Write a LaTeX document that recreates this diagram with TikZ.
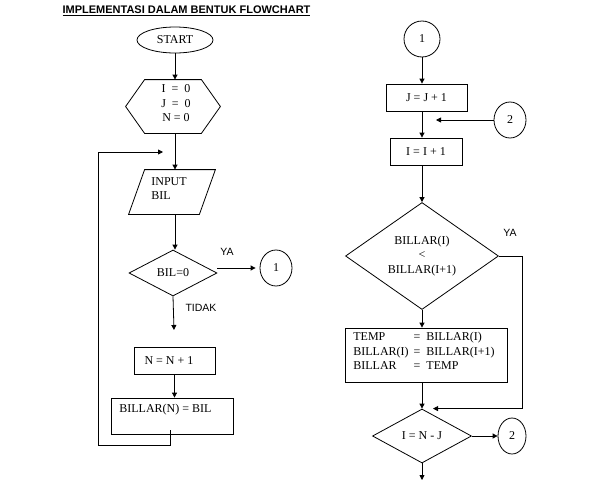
\documentclass[tikz,border=0pt]{standalone}
\usepackage{fontspec}
\setmainfont{Liberation Serif}
\setsansfont{Liberation Sans}
\usetikzlibrary{shapes.geometric,arrows.meta,calc}
\begin{document}
\begin{tikzpicture}[x=1pt,y=-1pt,
  line width=0.8pt,
  every node/.style={font=\fontsize{12}{14.5}\selectfont},
  arr/.style={-{Triangle[length=5pt,width=5pt]}},
  box/.style={draw, rectangle, inner sep=0pt},
  ghost/.style={rectangle, inner sep=0pt},
  dia/.style={draw, diamond, inner sep=0pt},
  conn/.style={draw, ellipse, inner sep=0pt},
  txt/.style={inner sep=0pt},
  lab/.style={font=\sffamily\fontsize{10.5}{12}\selectfont, inner sep=0pt}
]
\useasboundingbox (0,0) rectangle (592,482);
\node[font=\sffamily\bfseries\fontsize{11}{13}\selectfont, inner sep=0pt] (title) at (186.5,11) {\underline{IMPLEMENTASI DALAM BENTUK FLOWCHART}};

% left column
\node[conn, minimum width=76pt, minimum height=26pt] (start) at (175,40) {START};
\node[ghost, minimum width=94pt, minimum height=53pt] (init) at (173,106.5) {};
\draw ([xshift=19pt]init.north west) -- ([xshift=-19pt]init.north east) -- (init.east) -- ([xshift=-19pt]init.south east) -- ([xshift=19pt]init.south west) -- (init.west) -- cycle;
\node[txt, align=center] (inittext) at (176,103.5) {I\ \ =\ \ 0\\J\ \ =\ \ 0\\N = 0};

\node[ghost, minimum width=86pt, minimum height=44pt] (input) at (172,192) {};
\draw ([xshift=16pt]input.north west) -- (input.north east) -- ([xshift=-16pt]input.south east) -- (input.south west) -- cycle;
\node[txt, anchor=west, align=left] (inputtext) at (151,188.5) {INPUT\\BIL};

\node[dia, minimum width=88pt, minimum height=46pt, aspect=1.9] (dec1) at (173,273) {BIL=0};
\node[conn, minimum width=32pt, minimum height=36pt] (c1a) at (276,268) {1};
\node[lab] (ya1) at (227,252) {YA};
\node[lab] (tidak) at (201,308) {TIDAK};
\coordinate (tidakend) at (174,330);

\node[box, minimum width=81pt, minimum height=27pt] (n1) at (174.5,360.5) {};
\node[txt] (n1text) at (169,360.5) {N = N + 1};
\node[box, minimum width=122pt, minimum height=36pt] (bil) at (172,416) {};
\node[txt, anchor=west] (biltext) at (119,410) {BILLAR(N) = BIL};

\coordinate (loopstart) at (170,430);
\coordinate (loopend) at (163,152);

\draw[arr] (start.south) -- (start.south |- init.north);
\draw[arr] (init.south -| start.south) -- (input.north -| start.south);
\draw[arr] (input.south -| start.south) -- (dec1.north -| start.south);
\draw[arr, shorten >=4pt] (dec1.east |- c1a.west) -- (c1a.west);
\draw[arr] (dec1.south) -- (tidakend);
\draw[arr] (n1.south) -- (n1.south |- bil.north);
\draw[arr] (loopstart) -- ++(0,15) -| (98,152) -- (loopend);

% right column
\node[conn, minimum width=36pt, minimum height=36pt] (c1b) at (422,39) {1};
\node[box, minimum width=81pt, minimum height=27pt] (jbox) at (426.5,97.5) {J = J + 1};
\node[box, minimum width=72pt, minimum height=27pt] (ibox) at (426,151.5) {I = I + 1};
\node[conn, minimum width=32pt, minimum height=36pt] (c2a) at (510,120) {2};
\coordinate (c2aend) at (436,120);
\node[dia, minimum width=153pt, minimum height=107pt, aspect=1.43, align=center] (dec2) at (422,256) {BILLAR(I)\\<\\BILLAR(I+1)};
\node[lab] (ya2) at (510,233) {YA};
\node[box, minimum width=162pt, minimum height=54pt] (swap) at (426,355) {};
\node[txt, anchor=west, align=left] (swaptext) at (353,352.5) {\begin{tabular}{@{}l@{\ \,}c@{\ \ }l@{}}TEMP & = & BILLAR(I)\\BILLAR(I) & = & BILLAR(I+1)\\BILLAR & = & TEMP\end{tabular}};
\node[dia, minimum width=99pt, minimum height=54pt, aspect=1.83] (dec3) at (422,436) {I = N - J};
\node[conn, minimum width=28pt, minimum height=36pt] (c2b) at (512,436) {2};
\coordinate (endpt) at (422,480);

\draw[arr] (c1b.south) -- (c1b.south |- jbox.north);
\draw[arr] (c1b.south |- jbox.south) -- (c1b.south |- ibox.north);
\draw[arr] (c2a) -- (c2aend);
\draw[arr] (c1b.south |- ibox.south) -- (dec2.north);
\draw[arr] (dec2.south) -- (dec2.south |- swap.north);
\draw[arr] (dec2.east) -- ++(23,0) |- ([xshift=11pt]dec3.north);
\draw[arr] (dec3.north |- swap.south) -- (dec3.north);
\draw[arr] (dec3.east) -- (c2b.west);
\draw[arr] (dec3.south) -- (endpt);
\end{tikzpicture}
\end{document}
